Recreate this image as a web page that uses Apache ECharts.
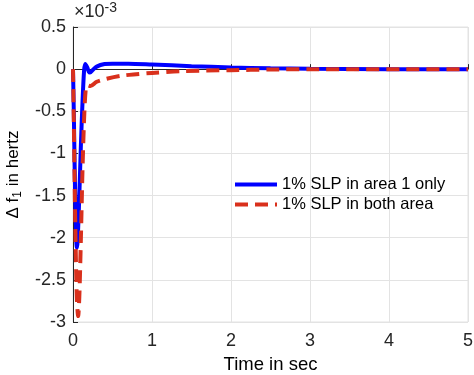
<!DOCTYPE html>
<html>
<head>
<meta charset="utf-8">
<script src="https://cdn.jsdelivr.net/npm/echarts@6/dist/echarts.min.js"></script>
<style>
  html, body { margin: 0; padding: 0; background: #fff; }
  #chart { width: 474px; height: 375px; }
</style>
</head>
<body>
<div id="chart"></div>
<script>
// values in units of 1e-3 Hz
const areaOneOnly = [
  [0, 0], [0.01, -0.5], [0.02, -1.1], [0.03, -1.6], [0.04, -1.98], [0.048, -2.12],
  [0.058, -2.05], [0.08, -1.5], [0.1, -0.9], [0.12, -0.4], [0.14, -0.02], [0.155, 0.06],
  [0.18, 0.02], [0.2, -0.03], [0.215, -0.04], [0.25, -0.01], [0.3, 0.03], [0.4, 0.06],
  [0.5, 0.065], [0.7, 0.065], [1.0, 0.055], [1.5, 0.035], [2.0, 0.02], [2.5, 0.01],
  [3, 0.005], [4, 0], [5, 0]
];
const bothArea = [
  [0, 0], [0.01, -0.6], [0.02, -1.3], [0.03, -1.9], [0.04, -2.4], [0.05, -2.75],
  [0.065, -2.93], [0.08, -2.7], [0.1, -2.0], [0.12, -1.2], [0.14, -0.6], [0.16, -0.25],
  [0.18, -0.19], [0.22, -0.2], [0.3, -0.15], [0.4, -0.12], [0.6, -0.08], [0.8, -0.06],
  [1, -0.045], [1.35, -0.025], [2, -0.012], [2.5, -0.005], [3, 0], [5, 0]
];
const seriesNames = ["1% SLP in area 1 only", "1% SLP in both area"];

const font = "Liberation Sans";
const chart = echarts.init(document.getElementById("chart"));

chart.setOption({
  animation: false,
  textStyle: { fontFamily: font },
  grid: {
    left: 73, right: 6, top: 27, bottom: 53,
    outerBoundsMode: "none",
    show: true, borderColor: "#e3e3e3", borderWidth: 1
  },
  legend: {
    orient: "vertical",
    left: 230, top: 171,
    itemWidth: 42, itemHeight: 4, itemGap: 3,
    textStyle: { fontSize: 16.5, color: "#000", fontFamily: font },
    data: [
      { name: seriesNames[0], icon: "rect" },
      { name: seriesNames[1], icon: "path://M0,0h13v4h-13z M20,0h13v4h-13z M40,0h2v4h-2z" }
    ]
  },
  graphic: [{
    type: "text",
    left: 74, top: 1,
    style: {
      text: "×10{sup|-3}",
      font: "18px " + font,
      fill: "#262626",
      rich: { sup: { fontSize: 14, verticalAlign: "top", padding: [0, 0, 9, 0], fill: "#262626" } }
    }
  }],
  xAxis: {
    type: "value", min: 0, max: 5, interval: 1,
    name: "Time in sec", nameLocation: "middle", nameGap: 33,
    nameTextStyle: { fontSize: 18.5, color: "#000" },
    axisLine: { lineStyle: { color: "#262626", width: 1 } },
    axisTick: { inside: true, length: 5, lineStyle: { color: "#262626" } },
    axisLabel: { fontSize: 18, color: "#262626", margin: 10 },
    splitLine: { show: true, lineStyle: { color: "#e3e3e3" } }
  },
  yAxis: {
    type: "value", min: -3, max: 0.5, interval: 0.5,
    name: "Δ f{sub|1} in hertz", nameLocation: "middle", nameGap: 46,
    nameTextStyle: {
      fontSize: 17, color: "#000",
      rich: { sub: { fontSize: 12, verticalAlign: "bottom", padding: [9, 0, 0, 0], color: "#000" } }
    },
    axisLine: { show: true, lineStyle: { color: "#262626", width: 1 } },
    axisTick: { show: true, inside: true, length: 5, lineStyle: { color: "#262626" } },
    axisLabel: { fontSize: 18, color: "#262626", margin: 7 },
    splitLine: { show: true, lineStyle: { color: "#e3e3e3" } }
  },
  series: [
    {
      name: seriesNames[0], type: "line", data: areaOneOnly,
      symbol: "none", smooth: 0.3,
      lineStyle: { color: "#0000ff", width: 4 },
      itemStyle: { color: "#0000ff" }
    },
    {
      name: seriesNames[1], type: "line", data: bothArea,
      symbol: "none", smooth: 0.3,
      lineStyle: { color: "#d9301c", width: 4, type: [13, 7] },
      itemStyle: { color: "#d9301c" }
    }
  ]
});
</script>
</body>
</html>
